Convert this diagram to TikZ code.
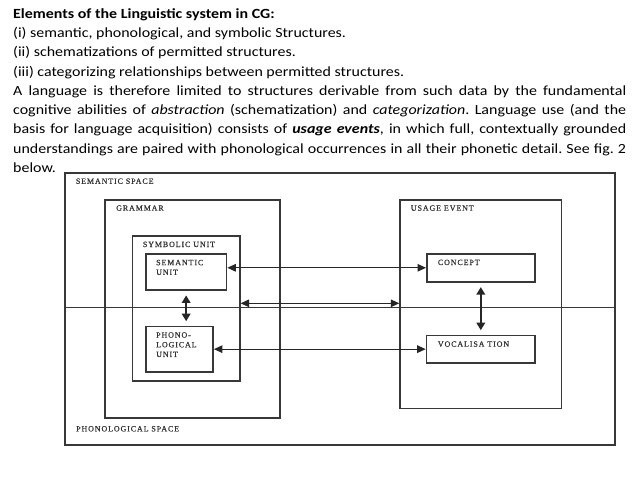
\documentclass[tikz,border=0pt]{standalone}
\usepackage{fontspec}
\setmainfont{Carlito}[FakeStretch=1.14]
\newfontfamily\diagfont[LetterSpace=11,FakeBold=0.6]{Liberation Serif}
\usetikzlibrary{arrows.meta}
\definecolor{boxgray}{HTML}{383838}
\definecolor{labgray}{HTML}{333333}
\frenchspacing
\begin{document}
\begin{tikzpicture}[x=1pt,y=-1pt,
  box/.style={draw=boxgray,line width=1.6pt,rectangle,inner sep=0pt,anchor=north west},
  lab/.style={inner sep=0pt,text=labgray,font=\diagfont\fontsize{8}{9.7}\selectfont,align=left},
  arr/.style={draw=black!85,line width=1.2pt,{Triangle[length=8.5pt,width=7.5pt]}-{Triangle[length=8.5pt,width=7.5pt]}},
  varr/.style={draw=black!85,line width=1.8pt,{Triangle[length=7.5pt,width=8.5pt]}-{Triangle[length=7.5pt,width=8.5pt]},shorten <=4.5pt,shorten >=4.5pt}]
\useasboundingbox (0,0) rectangle (638,479);
\fill[white] (0,0) rectangle (638,479);
% top text
\node[inner sep=0pt,anchor=base west,text width=613pt,align=justify,
  font=\fontsize{14}{19.25}\selectfont] (para) at (13,18.5) {%
\textbf{Elements of the Linguistic system in CG:}\\
(i) semantic, phonological, and symbolic Structures.\\
(ii) schematizations of permitted structures.\\
(iii) categorizing relationships between permitted structures.\\
A language is therefore limited to structures derivable from such data by the fundamental\linebreak
cognitive abilities of \emph{abstraction} (schematization) and \emph{categorization}. Language use (and the\linebreak
basis for language acquisition) consists of \textbf{\emph{usage events}}, in which full, contextually grounded\linebreak
understandings are paired with phonological occurrences in all their phonetic detail. See fig.~2\linebreak
below.};
% boxes
\node[box,minimum width=550pt,minimum height=272pt] (space) at (64,172) {};
\node[box,minimum width=175pt,minimum height=218pt] (grammar) at (104,199) {};
\node[box,minimum width=107.3pt,minimum height=145pt] (symunit) at (131.7,235) {};
\node[box,minimum width=80.7pt,minimum height=36.3pt] (semunit) at (145,253) {};
\node[box,minimum width=67.3pt,minimum height=45.3pt] (phonunit) at (145,325.7) {};
\node[box,minimum width=161.4pt,minimum height=208.7pt] (usage) at (399.3,199) {};
\node[box,minimum width=108pt,minimum height=28pt] (concept) at (426,253) {};
\node[box,minimum width=108.3pt,minimum height=27.6pt] (vocal) at (425.7,334.7) {};
% divider
\coordinate (divL) at (64,307.5);
\coordinate (divR) at (614,307.5);
\draw[draw=boxgray,line width=1.6pt] (divL) -- (divR);
% labels
\node[lab,anchor=base west] (lspace) at (75.7,183.8) {SEMANTIC SPACE};
\node[lab,anchor=base west] (lgram) at (116,210.7) {GRAMMAR};
\node[lab,anchor=base west] (lsym) at (142.7,247) {SYMBOLIC UNIT};
\node[lab,anchor=north west] (lsem) at (156,259.7) {SEMANTIC\\UNIT};
\node[lab,anchor=base west] (lusage) at (410.7,210.7) {USAGE EVENT};
\node[lab,anchor=base west] (lconc) at (437.7,265) {CONCEPT};
\node[lab,anchor=north west] (lphon) at (156,332.1) {PHONO-\\LOGICAL\\UNIT};
\node[lab,anchor=base west] (lvoc) at (437.7,346.7) {VOCALISA TION};
\node[lab,anchor=base west] (lpspace) at (76,431.4) {PHONOLOGICAL SPACE};
% arrows
\draw[arr] (semunit.east |- concept.west) -- (concept.west);
\draw[arr] (symunit.east |- 0,303.3) -- (usage.west |- 0,303.3);
\draw[arr] (phonunit.east) -- (vocal.west |- phonunit.east);
\draw[varr] (semunit.south) -- (semunit.south |- phonunit.north);
\draw[varr] (concept.south) -- (concept.south |- vocal.north);
\end{tikzpicture}
\end{document}
